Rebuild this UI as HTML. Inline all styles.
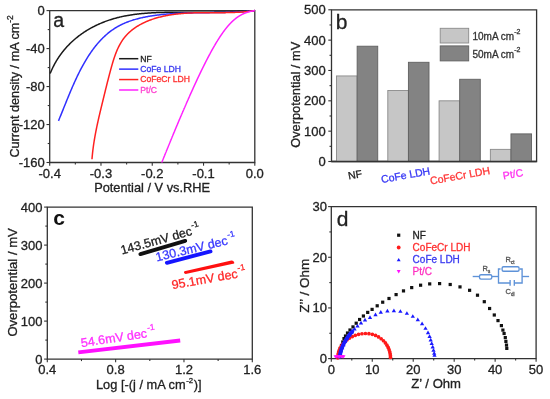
<!DOCTYPE html>
<html><head><meta charset="utf-8"><style>
html,body{margin:0;padding:0;background:#fff;width:550px;height:399px;overflow:hidden}
svg{display:block;filter:blur(0.35px)}
text{font-family:"Liberation Sans", sans-serif}
</style></head><body>
<svg width="550" height="399" viewBox="0 0 550 399">
<rect width="550" height="399" fill="#fff"/>
<path d="M49.70,10.60 H254.80 V162.50 H49.70 Z" fill="none" stroke="#333" stroke-width="1.3"/>
<line x1="46.50" y1="10.60" x2="49.70" y2="10.60" stroke="#333" stroke-width="1.1"/>
<line x1="46.50" y1="48.58" x2="49.70" y2="48.58" stroke="#333" stroke-width="1.1"/>
<line x1="46.50" y1="86.55" x2="49.70" y2="86.55" stroke="#333" stroke-width="1.1"/>
<line x1="46.50" y1="124.53" x2="49.70" y2="124.53" stroke="#333" stroke-width="1.1"/>
<line x1="46.50" y1="162.50" x2="49.70" y2="162.50" stroke="#333" stroke-width="1.1"/>
<line x1="47.70" y1="29.59" x2="49.70" y2="29.59" stroke="#333" stroke-width="1.1"/>
<line x1="47.70" y1="67.56" x2="49.70" y2="67.56" stroke="#333" stroke-width="1.1"/>
<line x1="47.70" y1="105.54" x2="49.70" y2="105.54" stroke="#333" stroke-width="1.1"/>
<line x1="47.70" y1="143.51" x2="49.70" y2="143.51" stroke="#333" stroke-width="1.1"/>
<line x1="49.70" y1="162.50" x2="49.70" y2="165.70" stroke="#333" stroke-width="1.1"/>
<line x1="100.98" y1="162.50" x2="100.98" y2="165.70" stroke="#333" stroke-width="1.1"/>
<line x1="152.25" y1="162.50" x2="152.25" y2="165.70" stroke="#333" stroke-width="1.1"/>
<line x1="203.53" y1="162.50" x2="203.53" y2="165.70" stroke="#333" stroke-width="1.1"/>
<line x1="254.80" y1="162.50" x2="254.80" y2="165.70" stroke="#333" stroke-width="1.1"/>
<line x1="75.34" y1="162.50" x2="75.34" y2="164.50" stroke="#333" stroke-width="1.1"/>
<line x1="126.61" y1="162.50" x2="126.61" y2="164.50" stroke="#333" stroke-width="1.1"/>
<line x1="177.89" y1="162.50" x2="177.89" y2="164.50" stroke="#333" stroke-width="1.1"/>
<line x1="229.16" y1="162.50" x2="229.16" y2="164.50" stroke="#333" stroke-width="1.1"/>
<text x="44.80" y="15.00" font-size="13" text-anchor="end" fill="#222" stroke="#222" stroke-width="0.3" font-weight="normal">0</text>
<text x="44.80" y="52.98" font-size="13" text-anchor="end" fill="#222" stroke="#222" stroke-width="0.3" font-weight="normal">-40</text>
<text x="44.80" y="90.95" font-size="13" text-anchor="end" fill="#222" stroke="#222" stroke-width="0.3" font-weight="normal">-80</text>
<text x="44.80" y="128.93" font-size="13" text-anchor="end" fill="#222" stroke="#222" stroke-width="0.3" font-weight="normal">-120</text>
<text x="44.80" y="166.90" font-size="13" text-anchor="end" fill="#222" stroke="#222" stroke-width="0.3" font-weight="normal">-160</text>
<text x="49.70" y="177.50" font-size="13" text-anchor="middle" fill="#222" stroke="#222" stroke-width="0.3" font-weight="normal">-0.4</text>
<text x="100.98" y="177.50" font-size="13" text-anchor="middle" fill="#222" stroke="#222" stroke-width="0.3" font-weight="normal">-0.3</text>
<text x="152.25" y="177.50" font-size="13" text-anchor="middle" fill="#222" stroke="#222" stroke-width="0.3" font-weight="normal">-0.2</text>
<text x="203.53" y="177.50" font-size="13" text-anchor="middle" fill="#222" stroke="#222" stroke-width="0.3" font-weight="normal">-0.1</text>
<text x="254.80" y="177.50" font-size="13" text-anchor="middle" fill="#222" stroke="#222" stroke-width="0.3" font-weight="normal">0.0</text>
<text x="152.10" y="191.50" font-size="12.8" text-anchor="middle" fill="#222" stroke="#222" stroke-width="0.3" font-weight="normal">Potential / V vs.RHE</text>
<text x="18.7" y="157.6" font-size="12.65" fill="#222" stroke="#222" stroke-width="0.3" transform="rotate(-90 18.7 157.6)">Current density / mA cm<tspan dy="-6" font-size="8.5">-2</tspan></text>
<text x="53.20" y="26.80" font-size="19.5" text-anchor="start" fill="#222" stroke="#222" stroke-width="0.3" font-weight="normal">a</text>
<polyline points="50.17,73.49 50.48,72.72 50.80,71.96 51.12,71.20 51.45,70.45 51.79,69.70 52.13,68.96 52.48,68.22 52.83,67.49 53.19,66.77 53.55,66.05 53.92,65.33 54.30,64.62 54.68,63.92 55.06,63.22 55.46,62.53 55.85,61.84 56.25,61.15 56.66,60.48 57.07,59.80 57.49,59.14 57.91,58.47 58.34,57.82 58.77,57.16 59.21,56.52 59.66,55.88 60.10,55.24 60.56,54.61 61.01,53.98 61.47,53.36 61.94,52.74 62.41,52.13 62.89,51.53 63.37,50.93 63.86,50.33 64.35,49.74 64.84,49.15 65.34,48.57 65.84,48.00 66.35,47.43 66.86,46.86 67.38,46.30 67.90,45.75 68.43,45.20 68.96,44.65 69.49,44.11 70.03,43.58 70.57,43.05 71.11,42.52 71.66,42.00 72.22,41.49 72.78,40.98 73.34,40.47 73.90,39.97 74.47,39.48 75.05,38.99 75.62,38.50 76.20,38.02 76.79,37.55 77.38,37.08 77.97,36.61 78.56,36.15 79.16,35.70 79.76,35.24 80.37,34.80 80.98,34.36 81.59,33.92 82.20,33.49 82.82,33.06 83.44,32.64 84.07,32.23 84.70,31.81 85.33,31.41 85.96,31.00 86.60,30.61 87.24,30.21 87.88,29.83 88.53,29.44 89.18,29.06 89.83,28.69 90.49,28.32 91.14,27.96 91.80,27.60 92.47,27.25 93.13,26.90 93.80,26.55 94.47,26.21 95.14,25.87 95.82,25.54 96.50,25.22 97.18,24.90 97.86,24.58 98.55,24.27 99.23,23.96 99.92,23.66 100.62,23.36 101.31,23.07 102.01,22.78 102.70,22.49 103.40,22.21 104.11,21.94 104.81,21.67 105.52,21.40 106.23,21.14 106.94,20.89 107.65,20.63 108.36,20.39 109.08,20.14 109.79,19.91 110.51,19.67 111.23,19.44 111.95,19.22 112.68,19.00 113.40,18.78 114.13,18.57 114.86,18.37 115.59,18.17 116.32,17.97 117.05,17.78 117.78,17.59 118.51,17.40 119.25,17.22 119.99,17.05 120.73,16.88 121.46,16.71 122.20,16.55 122.95,16.39 123.69,16.24 124.43,16.08 125.18,15.94 125.92,15.79 126.67,15.66 127.42,15.52 128.16,15.39 128.91,15.26 129.67,15.14 130.42,15.02 131.17,14.90 131.92,14.78 132.68,14.67 133.43,14.57 134.19,14.46 134.94,14.36 135.70,14.26 136.46,14.17 137.22,14.08 137.98,13.99 138.74,13.90 139.50,13.82 140.26,13.74 141.02,13.66 141.78,13.59 142.55,13.52 143.31,13.45 144.07,13.38 144.84,13.32 145.60,13.26 146.37,13.20 147.13,13.14 147.90,13.09 148.67,13.03 149.43,12.98 150.20,12.94 150.97,12.89 151.74,12.85 152.51,12.81 153.28,12.77 154.04,12.73 154.81,12.69 155.58,12.66 156.35,12.62 157.12,12.59 157.89,12.56 158.66,12.54 159.43,12.51 160.20,12.48 160.97,12.46 161.74,12.44 162.51,12.42 163.28,12.40 164.05,12.38 164.82,12.36 165.59,12.34 166.36,12.33 167.13,12.31 167.90,12.30 168.67,12.29 169.44,12.28 170.21,12.27 170.98,12.25 171.75,12.24 172.52,12.24 173.28,12.23 174.05,12.22 174.82,12.21 175.59,12.20 176.36,12.20 177.12,12.19 177.89,12.19 178.66,12.18 179.42,12.18 180.19,12.17 180.96,12.17 181.72,12.17 182.49,12.17 183.25,12.16 184.02,12.16 184.78,12.16 185.55,12.16 186.31,12.16 187.08,12.16 187.84,12.16 188.61,12.16 189.37,12.16 190.13,12.16 190.90,12.16 191.66,12.16 192.43,12.16 193.19,12.16 193.95,12.16 194.72,12.16 195.48,12.16 196.24,12.16 197.00,12.16 197.77,12.16 198.53,12.16 199.29,12.16 200.05,12.16 200.81,12.16 201.58,12.16 202.34,12.16 203.10,12.16 203.86,12.16 204.62,12.16 205.38,12.16 206.14,12.16 206.91,12.16 207.67,12.15 208.43,12.15 209.19,12.15 209.95,12.15 210.71,12.14 211.47,12.14 212.23,12.14 212.99,12.13 213.75,12.13 214.51,12.12 215.27,12.12 216.03,12.11 216.79,12.10 217.55,12.09 218.31,12.09 219.07,12.08 219.83,12.07 220.59,12.06 221.34,12.05 222.10,12.04 222.86,12.02 223.62,12.01 224.38,12.00 225.14,11.98 225.90,11.97 226.66,11.95 227.42,11.93 228.17,11.92 228.93,11.90 229.69,11.88 230.45,11.86 231.21,11.84 231.97,11.81 232.73,11.79 233.48,11.77 234.24,11.74 235.00,11.71 235.76,11.69 236.52,11.66 237.28,11.63 238.03,11.60 238.79,11.56 239.55,11.53 240.31,11.50 241.07,11.46 241.82,11.42 242.58,11.39 243.34,11.35 244.10,11.31 244.86,11.26 245.62,11.22 246.37,11.17 247.13,11.13 247.89,11.08 248.65,11.03 249.41,10.98 250.16,10.93 250.92,10.88 251.68,10.82 252.44,10.77 253.20,10.71 253.96,10.65 254.71,10.59" fill="none" stroke="#1a1a1a" stroke-width="1.5" stroke-linejoin="round"/>
<polyline points="58.46,120.88 58.76,120.17 59.05,119.46 59.35,118.74 59.65,118.02 59.95,117.30 60.25,116.57 60.55,115.84 60.85,115.10 61.16,114.36 61.46,113.62 61.76,112.87 62.06,112.13 62.37,111.37 62.67,110.62 62.98,109.86 63.28,109.10 63.59,108.34 63.90,107.57 64.21,106.80 64.52,106.03 64.83,105.26 65.14,104.49 65.46,103.71 65.77,102.93 66.08,102.15 66.40,101.37 66.72,100.58 67.04,99.80 67.36,99.01 67.68,98.22 68.00,97.43 68.33,96.64 68.66,95.85 68.98,95.05 69.31,94.26 69.65,93.46 69.98,92.66 70.31,91.87 70.65,91.07 70.99,90.27 71.33,89.47 71.67,88.68 72.02,87.88 72.36,87.08 72.71,86.28 73.06,85.48 73.41,84.68 73.77,83.88 74.12,83.08 74.48,82.29 74.84,81.49 75.21,80.69 75.57,79.90 75.94,79.10 76.31,78.31 76.69,77.52 77.06,76.73 77.44,75.94 77.82,75.15 78.21,74.36 78.59,73.58 78.98,72.79 79.38,72.01 79.77,71.23 80.17,70.45 80.57,69.68 80.97,68.90 81.38,68.13 81.79,67.36 82.21,66.59 82.62,65.83 83.04,65.06 83.46,64.31 83.89,63.55 84.32,62.80 84.75,62.04 85.19,61.30 85.63,60.55 86.07,59.81 86.52,59.07 86.97,58.34 87.42,57.61 87.88,56.88 88.34,56.16 88.81,55.44 89.28,54.72 89.75,54.01 90.23,53.30 90.71,52.60 91.19,51.90 91.68,51.21 92.17,50.52 92.67,49.83 93.17,49.15 93.68,48.48 94.19,47.81 94.70,47.14 95.22,46.48 95.74,45.83 96.27,45.18 96.80,44.53 97.33,43.89 97.87,43.26 98.42,42.63 98.97,42.01 99.52,41.39 100.08,40.78 100.64,40.18 101.21,39.58 101.78,38.99 102.36,38.41 102.95,37.83 103.53,37.26 104.13,36.69 104.72,36.13 105.33,35.58 105.94,35.03 106.55,34.50 107.17,33.97 107.79,33.44 108.42,32.93 109.05,32.42 109.69,31.92 110.34,31.42 110.99,30.94 111.65,30.46 112.31,29.99 112.98,29.53 113.65,29.07 114.33,28.63 115.01,28.19 115.70,27.76 116.40,27.34 117.10,26.93 117.81,26.52 118.52,26.13 119.24,25.74 119.96,25.36 120.69,24.99 121.43,24.63 122.17,24.28 122.91,23.93 123.66,23.59 124.42,23.26 125.18,22.93 125.94,22.62 126.71,22.31 127.48,22.01 128.26,21.71 129.04,21.42 129.83,21.14 130.62,20.87 131.41,20.60 132.21,20.34 133.01,20.09 133.81,19.84 134.62,19.60 135.43,19.36 136.24,19.13 137.06,18.91 137.88,18.69 138.70,18.48 139.53,18.27 140.36,18.07 141.19,17.88 142.02,17.69 142.85,17.50 143.69,17.33 144.53,17.15 145.37,16.98 146.22,16.82 147.06,16.66 147.91,16.51 148.76,16.36 149.61,16.21 150.46,16.07 151.31,15.94 152.16,15.80 153.02,15.68 153.87,15.55 154.73,15.43 155.58,15.32 156.44,15.20 157.30,15.09 158.16,14.99 159.02,14.89 159.88,14.79 160.73,14.69 161.59,14.60 162.45,14.51 163.31,14.43 164.17,14.34 165.02,14.26 165.88,14.19 166.74,14.11 167.60,14.04 168.45,13.97 169.31,13.90 170.17,13.84 171.02,13.77 171.88,13.71 172.73,13.66 173.59,13.60 174.44,13.55 175.30,13.50 176.15,13.45 177.01,13.40 177.86,13.36 178.71,13.32 179.57,13.28 180.42,13.24 181.27,13.20 182.13,13.17 182.98,13.13 183.83,13.10 184.68,13.07 185.54,13.04 186.39,13.01 187.24,12.99 188.09,12.96 188.94,12.94 189.79,12.92 190.64,12.90 191.49,12.88 192.34,12.86 193.19,12.84 194.04,12.82 194.89,12.81 195.74,12.79 196.59,12.78 197.44,12.77 198.29,12.75 199.14,12.74 199.99,12.73 200.83,12.72 201.68,12.71 202.53,12.70 203.38,12.69 204.22,12.68 205.07,12.67 205.92,12.66 206.76,12.65 207.61,12.64 208.46,12.63 209.30,12.63 210.15,12.62 210.99,12.61 211.84,12.60 212.68,12.59 213.53,12.58 214.37,12.57 215.22,12.56 216.06,12.55 216.91,12.54 217.75,12.53 218.59,12.51 219.44,12.50 220.28,12.49 221.12,12.47 221.97,12.46 222.81,12.44 223.65,12.42 224.49,12.40 225.33,12.38 226.18,12.36 227.02,12.34 227.86,12.32 228.70,12.29 229.54,12.27 230.38,12.24 231.22,12.21 232.06,12.18 232.90,12.15 233.74,12.12 234.58,12.08 235.42,12.05 236.26,12.01 237.10,11.97 237.94,11.92 238.78,11.88 239.61,11.83 240.45,11.79 241.29,11.74 242.13,11.68 242.97,11.63 243.80,11.57 244.64,11.51 245.48,11.45 246.32,11.39 247.15,11.32 247.99,11.25 248.83,11.18 249.66,11.10 250.50,11.03 251.33,10.95 252.17,10.86 253.00,10.78 253.84,10.69 254.67,10.60" fill="none" stroke="#3030ff" stroke-width="1.5" stroke-linejoin="round"/>
<polyline points="91.99,159.20 92.06,158.30 92.13,157.41 92.21,156.51 92.29,155.61 92.38,154.72 92.47,153.83 92.56,152.94 92.66,152.05 92.76,151.16 92.87,150.28 92.97,149.39 93.09,148.51 93.20,147.63 93.32,146.75 93.44,145.87 93.56,144.99 93.69,144.11 93.82,143.24 93.96,142.36 94.09,141.49 94.23,140.62 94.38,139.75 94.52,138.88 94.67,138.01 94.82,137.14 94.97,136.27 95.13,135.41 95.29,134.54 95.45,133.68 95.61,132.81 95.78,131.95 95.94,131.09 96.11,130.23 96.29,129.37 96.46,128.51 96.63,127.65 96.81,126.79 96.99,125.93 97.17,125.07 97.36,124.22 97.54,123.36 97.73,122.51 97.92,121.65 98.11,120.80 98.30,119.94 98.49,119.09 98.68,118.24 98.88,117.39 99.07,116.53 99.27,115.68 99.47,114.83 99.67,113.98 99.87,113.13 100.07,112.28 100.27,111.43 100.48,110.57 100.68,109.72 100.88,108.87 101.09,108.02 101.29,107.17 101.50,106.32 101.71,105.47 101.91,104.62 102.12,103.77 102.33,102.92 102.53,102.07 102.74,101.22 102.95,100.37 103.16,99.52 103.36,98.67 103.57,97.82 103.78,96.97 103.99,96.11 104.20,95.26 104.40,94.41 104.61,93.56 104.82,92.70 105.03,91.85 105.24,90.99 105.45,90.14 105.66,89.28 105.87,88.43 106.09,87.57 106.30,86.71 106.51,85.85 106.73,85.00 106.94,84.14 107.16,83.28 107.38,82.41 107.59,81.55 107.81,80.69 108.03,79.82 108.26,78.96 108.48,78.09 108.70,77.23 108.93,76.36 109.16,75.49 109.38,74.62 109.61,73.75 109.85,72.88 110.08,72.00 110.31,71.13 110.55,70.25 110.79,69.37 111.03,68.49 111.27,67.62 111.51,66.74 111.76,65.86 112.01,64.98 112.27,64.10 112.52,63.22 112.79,62.34 113.05,61.46 113.32,60.59 113.60,59.72 113.88,58.85 114.16,57.98 114.45,57.12 114.75,56.26 115.05,55.41 115.36,54.56 115.68,53.71 116.00,52.87 116.33,52.03 116.67,51.20 117.01,50.38 117.37,49.56 117.73,48.75 118.10,47.95 118.48,47.15 118.87,46.36 119.27,45.58 119.68,44.81 120.09,44.04 120.52,43.29 120.96,42.54 121.42,41.80 121.88,41.08 122.35,40.36 122.84,39.66 123.33,38.97 123.85,38.28 124.37,37.61 124.90,36.95 125.45,36.31 126.01,35.67 126.57,35.04 127.15,34.43 127.75,33.82 128.35,33.23 128.96,32.65 129.58,32.07 130.22,31.51 130.86,30.96 131.51,30.42 132.17,29.89 132.84,29.37 133.52,28.86 134.21,28.36 134.91,27.86 135.61,27.38 136.33,26.91 137.05,26.45 137.78,26.00 138.52,25.56 139.26,25.12 140.01,24.70 140.77,24.29 141.53,23.88 142.31,23.48 143.08,23.10 143.87,22.72 144.66,22.35 145.45,21.99 146.25,21.64 147.06,21.29 147.87,20.96 148.69,20.63 149.51,20.31 150.33,20.00 151.16,19.70 151.99,19.41 152.83,19.12 153.67,18.84 154.51,18.57 155.36,18.31 156.21,18.06 157.06,17.81 157.91,17.57 158.77,17.34 159.63,17.11 160.49,16.90 161.35,16.69 162.21,16.48 163.08,16.29 163.94,16.10 164.81,15.91 165.68,15.74 166.55,15.57 167.42,15.40 168.29,15.25 169.16,15.09 170.03,14.95 170.91,14.81 171.78,14.68 172.66,14.55 173.53,14.43 174.41,14.31 175.29,14.20 176.17,14.09 177.05,13.99 177.93,13.89 178.81,13.80 179.70,13.71 180.58,13.63 181.46,13.55 182.35,13.48 183.24,13.41 184.12,13.34 185.01,13.28 185.89,13.22 186.78,13.17 187.67,13.12 188.56,13.07 189.45,13.03 190.34,12.99 191.23,12.95 192.12,12.92 193.01,12.88 193.90,12.86 194.79,12.83 195.68,12.81 196.57,12.78 197.47,12.77 198.36,12.75 199.25,12.73 200.14,12.72 201.03,12.71 201.93,12.70 202.82,12.69 203.71,12.68 204.61,12.68 205.50,12.68 206.39,12.67 207.28,12.67 208.18,12.67 209.07,12.67 209.96,12.67 210.85,12.67 211.74,12.67 212.64,12.67 213.53,12.67 214.42,12.67 215.31,12.67 216.20,12.67 217.09,12.67 217.98,12.67 218.87,12.67 219.76,12.67 220.65,12.66 221.53,12.66 222.42,12.65 223.31,12.65 224.20,12.64 225.08,12.63 225.97,12.62 226.85,12.61 227.73,12.59 228.62,12.58 229.50,12.56 230.38,12.54 231.26,12.52 232.14,12.49 233.02,12.46 233.90,12.43 234.78,12.40 235.66,12.36 236.53,12.32 237.41,12.28 238.28,12.23 239.15,12.18 240.03,12.13 240.90,12.07 241.77,12.01 242.64,11.95 243.50,11.88 244.37,11.81 245.24,11.73 246.10,11.65 246.96,11.56 247.82,11.47 248.68,11.38 249.54,11.28 250.40,11.17 251.26,11.06 252.11,10.95 252.97,10.83 253.82,10.70 254.67,10.57" fill="none" stroke="#ff2020" stroke-width="1.5" stroke-linejoin="round"/>
<polyline points="254.80,10.60 252.60,10.98 250.80,11.36 249.27,11.74 247.93,12.12 246.74,12.50 245.66,12.89 244.68,13.27 243.77,13.65 242.93,14.03 242.14,14.41 241.39,14.79 240.69,15.17 240.02,15.55 239.39,15.93 238.78,16.31 238.20,16.70 237.63,17.08 237.09,17.46 236.57,17.84 236.07,18.22 235.58,18.60 235.10,18.98 234.64,19.36 234.19,19.74 233.75,20.12 233.32,20.50 232.90,20.89 232.49,21.27 232.09,21.65 231.70,22.03 231.31,22.41 230.93,22.79 230.56,23.17 230.20,23.55 229.84,23.93 229.49,24.31 229.14,24.69 228.80,25.08 228.46,25.46 228.13,25.84 227.80,26.22 227.48,26.60 227.16,26.98 226.84,27.36 226.53,27.74 226.23,28.12 225.92,28.50 225.62,28.89 225.32,29.27 225.03,29.65 224.74,30.03 224.45,30.41 224.17,30.79 223.88,31.17 223.60,31.55 223.32,31.93 223.05,32.31 222.78,32.69 222.51,33.08 222.24,33.46 221.97,33.84 221.71,34.22 221.45,34.60 221.19,34.98 220.93,35.36 220.67,35.74 220.42,36.12 220.16,36.50 219.91,36.88 219.66,37.27 219.41,37.65 219.17,38.03 218.92,38.41 218.68,38.79 218.44,39.17 218.20,39.55 217.96,39.93 217.72,40.31 217.48,40.69 217.25,41.08 217.01,41.46 216.78,41.84 216.55,42.22 216.32,42.60 216.09,42.98 215.86,43.36 215.63,43.74 215.41,44.12 215.18,44.50 214.96,44.88 214.74,45.27 214.51,45.65 214.29,46.03 214.07,46.41 213.85,46.79 213.63,47.17 213.42,47.55 213.20,47.93 212.98,48.31 212.77,48.69 212.56,49.07 212.34,49.46 212.13,49.84 211.92,50.22 211.71,50.60 211.50,50.98 211.29,51.36 211.08,51.74 210.87,52.12 210.66,52.50 210.45,52.88 210.25,53.27 210.04,53.65 209.84,54.03 209.63,54.41 209.43,54.79 209.23,55.17 209.02,55.55 208.82,55.93 208.62,56.31 208.42,56.69 208.22,57.07 208.02,57.46 207.82,57.84 207.62,58.22 207.42,58.60 207.22,58.98 207.03,59.36 206.83,59.74 206.63,60.12 206.44,60.50 206.24,60.88 206.05,61.26 205.85,61.65 205.66,62.03 205.47,62.41 205.27,62.79 205.08,63.17 204.89,63.55 204.70,63.93 204.51,64.31 204.32,64.69 204.13,65.07 203.94,65.46 203.75,65.84 203.56,66.22 203.37,66.60 203.18,66.98 202.99,67.36 202.80,67.74 202.62,68.12 202.43,68.50 202.24,68.88 202.06,69.26 201.87,69.65 201.68,70.03 201.50,70.41 201.31,70.79 201.13,71.17 200.95,71.55 200.76,71.93 200.58,72.31 200.39,72.69 200.21,73.07 200.03,73.46 199.85,73.84 199.66,74.22 199.48,74.60 199.30,74.98 199.12,75.36 198.94,75.74 198.76,76.12 198.58,76.50 198.40,76.88 198.22,77.26 198.04,77.65 197.86,78.03 197.68,78.41 197.50,78.79 197.32,79.17 197.14,79.55 196.97,79.93 196.79,80.31 196.61,80.69 196.43,81.07 196.26,81.45 196.08,81.84 195.90,82.22 195.73,82.60 195.55,82.98 195.37,83.36 195.20,83.74 195.02,84.12 194.85,84.50 194.67,84.88 194.50,85.26 194.32,85.65 194.15,86.03 193.98,86.41 193.80,86.79 193.63,87.17 193.45,87.55 193.28,87.93 193.11,88.31 192.94,88.69 192.76,89.07 192.59,89.45 192.42,89.84 192.25,90.22 192.07,90.60 191.90,90.98 191.73,91.36 191.56,91.74 191.39,92.12 191.22,92.50 191.05,92.88 190.87,93.26 190.70,93.64 190.53,94.03 190.36,94.41 190.19,94.79 190.02,95.17 189.85,95.55 189.68,95.93 189.52,96.31 189.35,96.69 189.18,97.07 189.01,97.45 188.84,97.84 188.67,98.22 188.50,98.60 188.33,98.98 188.17,99.36 188.00,99.74 187.83,100.12 187.66,100.50 187.50,100.88 187.33,101.26 187.16,101.64 186.99,102.03 186.83,102.41 186.66,102.79 186.49,103.17 186.33,103.55 186.16,103.93 185.99,104.31 185.83,104.69 185.66,105.07 185.50,105.45 185.33,105.83 185.17,106.22 185.00,106.60 184.83,106.98 184.67,107.36 184.50,107.74 184.34,108.12 184.17,108.50 184.01,108.88 183.85,109.26 183.68,109.64 183.52,110.03 183.35,110.41 183.19,110.79 183.02,111.17 182.86,111.55 182.70,111.93 182.53,112.31 182.37,112.69 182.21,113.07 182.04,113.45 181.88,113.83 181.72,114.22 181.55,114.60 181.39,114.98 181.23,115.36 181.07,115.74 180.90,116.12 180.74,116.50 180.58,116.88 180.42,117.26 180.26,117.64 180.09,118.02 179.93,118.41 179.77,118.79 179.61,119.17 179.45,119.55 179.29,119.93 179.12,120.31 178.96,120.69 178.80,121.07 178.64,121.45 178.48,121.83 178.32,122.22 178.16,122.60 178.00,122.98 177.84,123.36 177.68,123.74 177.52,124.12 177.36,124.50 177.19,124.88 177.03,125.26 176.87,125.64 176.71,126.02 176.56,126.41 176.40,126.79 176.24,127.17 176.08,127.55 175.92,127.93 175.76,128.31 175.60,128.69 175.44,129.07 175.28,129.45 175.12,129.83 174.96,130.22 174.80,130.60 174.64,130.98 174.48,131.36 174.33,131.74 174.17,132.12 174.01,132.50 173.85,132.88 173.69,133.26 173.53,133.64 173.38,134.02 173.22,134.41 173.06,134.79 172.90,135.17 172.74,135.55 172.59,135.93 172.43,136.31 172.27,136.69 172.11,137.07 171.96,137.45 171.80,137.83 171.64,138.21 171.48,138.60 171.33,138.98 171.17,139.36 171.01,139.74 170.85,140.12 170.70,140.50 170.54,140.88 170.38,141.26 170.23,141.64 170.07,142.02 169.91,142.41 169.76,142.79 169.60,143.17 169.44,143.55 169.29,143.93 169.13,144.31 168.98,144.69 168.82,145.07 168.66,145.45 168.51,145.83 168.35,146.21 168.20,146.60 168.04,146.98 167.88,147.36 167.73,147.74 167.57,148.12 167.42,148.50 167.26,148.88 167.11,149.26 166.95,149.64 166.79,150.02 166.64,150.40 166.48,150.79 166.33,151.17 166.17,151.55 166.02,151.93 165.86,152.31 165.71,152.69 165.55,153.07 165.40,153.45 165.24,153.83 165.09,154.21 164.93,154.60 164.78,154.98 164.63,155.36 164.47,155.74 164.32,156.12 164.16,156.50 164.01,156.88 163.85,157.26 163.70,157.64 163.55,158.02 163.39,158.40 163.24,158.79 163.08,159.17 162.93,159.55 162.78,159.93 162.62,160.31 162.47,160.69 162.31,161.07 162.16,161.45 162.01,161.83 161.85,162.21 161.70,162.59" fill="none" stroke="#ff20ff" stroke-width="1.5" stroke-linejoin="round"/>
<line x1="119.1" y1="58.70" x2="138.3" y2="58.70" stroke="#1a1a1a" stroke-width="1.5"/>
<text x="140.30" y="61.60" font-size="8.6" text-anchor="start" fill="#222" stroke="#222" stroke-width="0.3" font-weight="normal">NF</text>
<line x1="119.1" y1="69.13" x2="138.3" y2="69.13" stroke="#3030ff" stroke-width="1.5"/>
<text x="140.30" y="72.03" font-size="8.6" text-anchor="start" fill="#3838f0" stroke="#3838f0" stroke-width="0.3" font-weight="normal">CoFe LDH</text>
<line x1="119.1" y1="79.56" x2="138.3" y2="79.56" stroke="#ff2020" stroke-width="1.5"/>
<text x="140.30" y="82.46" font-size="8.6" text-anchor="start" fill="#ff3030" stroke="#ff3030" stroke-width="0.3" font-weight="normal">CoFeCr LDH</text>
<line x1="119.1" y1="89.99" x2="138.3" y2="89.99" stroke="#ff20ff" stroke-width="1.5"/>
<text x="140.30" y="92.89" font-size="8.6" text-anchor="start" fill="#ff40d0" stroke="#ff40d0" stroke-width="0.3" font-weight="normal">Pt/C</text>
<path d="M331.50,9.80 H536.60 V161.50 H331.50 Z" fill="none" stroke="#333" stroke-width="1.3"/>
<line x1="328.30" y1="161.50" x2="331.50" y2="161.50" stroke="#333" stroke-width="1.1"/>
<line x1="328.30" y1="131.16" x2="331.50" y2="131.16" stroke="#333" stroke-width="1.1"/>
<line x1="328.30" y1="100.82" x2="331.50" y2="100.82" stroke="#333" stroke-width="1.1"/>
<line x1="328.30" y1="70.48" x2="331.50" y2="70.48" stroke="#333" stroke-width="1.1"/>
<line x1="328.30" y1="40.14" x2="331.50" y2="40.14" stroke="#333" stroke-width="1.1"/>
<line x1="328.30" y1="9.80" x2="331.50" y2="9.80" stroke="#333" stroke-width="1.1"/>
<line x1="329.50" y1="146.33" x2="331.50" y2="146.33" stroke="#333" stroke-width="1.1"/>
<line x1="329.50" y1="115.99" x2="331.50" y2="115.99" stroke="#333" stroke-width="1.1"/>
<line x1="329.50" y1="85.65" x2="331.50" y2="85.65" stroke="#333" stroke-width="1.1"/>
<line x1="329.50" y1="55.31" x2="331.50" y2="55.31" stroke="#333" stroke-width="1.1"/>
<line x1="329.50" y1="24.97" x2="331.50" y2="24.97" stroke="#333" stroke-width="1.1"/>
<text x="325.80" y="165.90" font-size="13" text-anchor="end" fill="#222" stroke="#222" stroke-width="0.3" font-weight="normal">0</text>
<text x="325.80" y="135.56" font-size="13" text-anchor="end" fill="#222" stroke="#222" stroke-width="0.3" font-weight="normal">100</text>
<text x="325.80" y="105.22" font-size="13" text-anchor="end" fill="#222" stroke="#222" stroke-width="0.3" font-weight="normal">200</text>
<text x="325.80" y="74.88" font-size="13" text-anchor="end" fill="#222" stroke="#222" stroke-width="0.3" font-weight="normal">300</text>
<text x="325.80" y="44.54" font-size="13" text-anchor="end" fill="#222" stroke="#222" stroke-width="0.3" font-weight="normal">400</text>
<text x="325.80" y="14.20" font-size="13" text-anchor="end" fill="#222" stroke="#222" stroke-width="0.3" font-weight="normal">500</text>
<text x="299.6" y="147.8" font-size="12.8" fill="#222" stroke="#222" stroke-width="0.3" transform="rotate(-90 299.6 147.8)">Overpotential / mV</text>
<text x="335.80" y="28.50" font-size="21" text-anchor="start" fill="#222" stroke="#222" stroke-width="0.3" font-weight="normal">b</text>
<rect x="336.54" y="75.94" width="20.60" height="85.56" fill="#c6c6c6" stroke="#8a8a8a" stroke-width="0.9"/>
<rect x="357.14" y="46.21" width="20.60" height="115.29" fill="#838383" stroke="#606060" stroke-width="0.9"/>
<rect x="387.81" y="90.50" width="20.60" height="71.00" fill="#c6c6c6" stroke="#8a8a8a" stroke-width="0.9"/>
<rect x="408.41" y="62.29" width="20.60" height="99.21" fill="#838383" stroke="#606060" stroke-width="0.9"/>
<rect x="439.09" y="100.82" width="20.60" height="60.68" fill="#c6c6c6" stroke="#8a8a8a" stroke-width="0.9"/>
<rect x="459.69" y="79.28" width="20.60" height="82.22" fill="#838383" stroke="#606060" stroke-width="0.9"/>
<rect x="490.36" y="149.36" width="20.60" height="12.14" fill="#c6c6c6" stroke="#8a8a8a" stroke-width="0.9"/>
<rect x="510.96" y="133.89" width="20.60" height="27.61" fill="#838383" stroke="#606060" stroke-width="0.9"/>
<line x1="331.50" y1="161.50" x2="536.60" y2="161.50" stroke="#333" stroke-width="1.3"/>
<rect x="440.2" y="28.3" width="28.5" height="14.7" fill="#c6c6c6" stroke="#8a8a8a" stroke-width="0.9"/>
<rect x="440.2" y="45.9" width="28.5" height="15" fill="#838383" stroke="#606060" stroke-width="0.9"/>
<text x="472.5" y="40.4" font-size="10" fill="#333" stroke="#333" stroke-width="0.3">10mA cm<tspan dy="-6" font-size="7">-2</tspan></text>
<text x="472.5" y="57.6" font-size="10" fill="#333" stroke="#333" stroke-width="0.3">50mA cm<tspan dy="-6" font-size="7">-2</tspan></text>
<text x="355.00" y="178.30" font-size="10.5" fill="#222" stroke="#222" stroke-width="0.3" text-anchor="middle" transform="rotate(-10 355.00 174.50)">NF</text>
<text x="405.50" y="178.80" font-size="10.5" fill="#3535f5" stroke="#3535f5" stroke-width="0.3" text-anchor="middle" transform="rotate(-10 405.50 175.00)">CoFe LDH</text>
<text x="460.00" y="179.30" font-size="10.5" fill="#ff3535" stroke="#ff3535" stroke-width="0.3" text-anchor="middle" transform="rotate(-10 460.00 175.50)">CoFeCr LDH</text>
<text x="513.00" y="177.80" font-size="10.5" fill="#ff30f0" stroke="#ff30f0" stroke-width="0.3" text-anchor="middle" transform="rotate(-10 513.00 174.00)">Pt/C</text>
<path d="M47.30,207.10 H252.30 V359.10 H47.30 Z" fill="none" stroke="#333" stroke-width="1.3"/>
<line x1="44.10" y1="359.10" x2="47.30" y2="359.10" stroke="#333" stroke-width="1.1"/>
<line x1="44.10" y1="321.10" x2="47.30" y2="321.10" stroke="#333" stroke-width="1.1"/>
<line x1="44.10" y1="283.10" x2="47.30" y2="283.10" stroke="#333" stroke-width="1.1"/>
<line x1="44.10" y1="245.10" x2="47.30" y2="245.10" stroke="#333" stroke-width="1.1"/>
<line x1="44.10" y1="207.10" x2="47.30" y2="207.10" stroke="#333" stroke-width="1.1"/>
<line x1="45.30" y1="340.10" x2="47.30" y2="340.10" stroke="#333" stroke-width="1.1"/>
<line x1="45.30" y1="302.10" x2="47.30" y2="302.10" stroke="#333" stroke-width="1.1"/>
<line x1="45.30" y1="264.10" x2="47.30" y2="264.10" stroke="#333" stroke-width="1.1"/>
<line x1="45.30" y1="226.10" x2="47.30" y2="226.10" stroke="#333" stroke-width="1.1"/>
<line x1="47.30" y1="359.10" x2="47.30" y2="362.30" stroke="#333" stroke-width="1.1"/>
<line x1="115.63" y1="359.10" x2="115.63" y2="362.30" stroke="#333" stroke-width="1.1"/>
<line x1="183.97" y1="359.10" x2="183.97" y2="362.30" stroke="#333" stroke-width="1.1"/>
<line x1="252.30" y1="359.10" x2="252.30" y2="362.30" stroke="#333" stroke-width="1.1"/>
<line x1="81.47" y1="359.10" x2="81.47" y2="361.10" stroke="#333" stroke-width="1.1"/>
<line x1="149.80" y1="359.10" x2="149.80" y2="361.10" stroke="#333" stroke-width="1.1"/>
<line x1="218.13" y1="359.10" x2="218.13" y2="361.10" stroke="#333" stroke-width="1.1"/>
<text x="42.50" y="363.50" font-size="13" text-anchor="end" fill="#222" stroke="#222" stroke-width="0.3" font-weight="normal">0</text>
<text x="42.50" y="325.50" font-size="13" text-anchor="end" fill="#222" stroke="#222" stroke-width="0.3" font-weight="normal">100</text>
<text x="42.50" y="287.50" font-size="13" text-anchor="end" fill="#222" stroke="#222" stroke-width="0.3" font-weight="normal">200</text>
<text x="42.50" y="249.50" font-size="13" text-anchor="end" fill="#222" stroke="#222" stroke-width="0.3" font-weight="normal">300</text>
<text x="42.50" y="211.50" font-size="13" text-anchor="end" fill="#222" stroke="#222" stroke-width="0.3" font-weight="normal">400</text>
<text x="47.30" y="374.40" font-size="13" text-anchor="middle" fill="#222" stroke="#222" stroke-width="0.3" font-weight="normal">0.4</text>
<text x="115.63" y="374.40" font-size="13" text-anchor="middle" fill="#222" stroke="#222" stroke-width="0.3" font-weight="normal">0.8</text>
<text x="183.97" y="374.40" font-size="13" text-anchor="middle" fill="#222" stroke="#222" stroke-width="0.3" font-weight="normal">1.2</text>
<text x="252.30" y="374.40" font-size="13" text-anchor="middle" fill="#222" stroke="#222" stroke-width="0.3" font-weight="normal">1.6</text>
<text x="96" y="388.5" font-size="12.8" fill="#222" stroke="#222" stroke-width="0.3">Log [-(j / mA cm<tspan dx="0.6" dy="-6" font-size="7.8">-2</tspan><tspan dx="0.6" dy="6">)]</tspan></text>
<text x="17.2" y="336.6" font-size="13.1" fill="#222" stroke="#222" stroke-width="0.3" transform="rotate(-90 17.2 336.6)">Overpotential / mV</text>
<text x="53.3" y="225" font-size="21" font-weight="bold" style="fill:#111">c</text>
<line x1="78.3" y1="352.4" x2="180.2" y2="340.5" stroke="#ff10ff" stroke-width="3.8"/>
<line x1="140.40" y1="254.10" x2="185.20" y2="240.90" stroke="#111" stroke-width="3.9" stroke-linecap="round"/>
<line x1="166.90" y1="262.80" x2="210.50" y2="251.40" stroke="#1515ff" stroke-width="3.9" stroke-linecap="round"/>
<path d="M184.4,271.3 L231.4,260.6 Q234.6,260.9 234.2,263.6 L185.6,273.9 Q183.2,273.5 184.4,271.3 Z" fill="#ff1010"/>
<text x="121.90" y="254.60" font-size="12.5" fill="#222" stroke="#222" stroke-width="0.3" transform="rotate(-15.6 121.90 254.60)">143.5mV dec<tspan dx="0.8" dy="-6.5" font-size="8.5">-1</tspan></text>
<text x="156.80" y="261.40" font-size="12.5" fill="#3a3aff" stroke="#3a3aff" stroke-width="0.3" transform="rotate(-13.4 156.80 261.40)">130.3mV dec<tspan dx="0.8" dy="-6.5" font-size="8.5">-1</tspan></text>
<text x="172.50" y="289.20" font-size="12.5" fill="#ff2a2a" stroke="#ff2a2a" stroke-width="0.3" transform="rotate(-10 172.50 289.20)">95.1mV dec<tspan dx="0.8" dy="-6.5" font-size="8.5">-1</tspan></text>
<text x="81.60" y="347.20" font-size="12.5" fill="#ff30ff" stroke="#ff30ff" stroke-width="0.3" transform="rotate(-8.6 81.60 347.20)">54.6mV dec<tspan dx="0.8" dy="-6.5" font-size="8.5">-1</tspan></text>
<path d="M331.30,206.60 H536.10 V358.60 H331.30 Z" fill="none" stroke="#333" stroke-width="1.3"/>
<line x1="328.10" y1="358.60" x2="331.30" y2="358.60" stroke="#333" stroke-width="1.1"/>
<line x1="328.10" y1="307.93" x2="331.30" y2="307.93" stroke="#333" stroke-width="1.1"/>
<line x1="328.10" y1="257.27" x2="331.30" y2="257.27" stroke="#333" stroke-width="1.1"/>
<line x1="328.10" y1="206.60" x2="331.30" y2="206.60" stroke="#333" stroke-width="1.1"/>
<line x1="329.30" y1="333.27" x2="331.30" y2="333.27" stroke="#333" stroke-width="1.1"/>
<line x1="329.30" y1="282.60" x2="331.30" y2="282.60" stroke="#333" stroke-width="1.1"/>
<line x1="329.30" y1="231.93" x2="331.30" y2="231.93" stroke="#333" stroke-width="1.1"/>
<line x1="331.30" y1="358.60" x2="331.30" y2="361.80" stroke="#333" stroke-width="1.1"/>
<line x1="372.26" y1="358.60" x2="372.26" y2="361.80" stroke="#333" stroke-width="1.1"/>
<line x1="413.22" y1="358.60" x2="413.22" y2="361.80" stroke="#333" stroke-width="1.1"/>
<line x1="454.18" y1="358.60" x2="454.18" y2="361.80" stroke="#333" stroke-width="1.1"/>
<line x1="495.14" y1="358.60" x2="495.14" y2="361.80" stroke="#333" stroke-width="1.1"/>
<line x1="536.10" y1="358.60" x2="536.10" y2="361.80" stroke="#333" stroke-width="1.1"/>
<line x1="351.78" y1="358.60" x2="351.78" y2="360.60" stroke="#333" stroke-width="1.1"/>
<line x1="392.74" y1="358.60" x2="392.74" y2="360.60" stroke="#333" stroke-width="1.1"/>
<line x1="433.70" y1="358.60" x2="433.70" y2="360.60" stroke="#333" stroke-width="1.1"/>
<line x1="474.66" y1="358.60" x2="474.66" y2="360.60" stroke="#333" stroke-width="1.1"/>
<line x1="515.62" y1="358.60" x2="515.62" y2="360.60" stroke="#333" stroke-width="1.1"/>
<text x="326.90" y="363.00" font-size="13" text-anchor="end" fill="#222" stroke="#222" stroke-width="0.3" font-weight="normal">0</text>
<text x="326.90" y="312.33" font-size="13" text-anchor="end" fill="#222" stroke="#222" stroke-width="0.3" font-weight="normal">10</text>
<text x="326.90" y="261.67" font-size="13" text-anchor="end" fill="#222" stroke="#222" stroke-width="0.3" font-weight="normal">20</text>
<text x="326.90" y="211.00" font-size="13" text-anchor="end" fill="#222" stroke="#222" stroke-width="0.3" font-weight="normal">30</text>
<text x="331.30" y="373.60" font-size="13" text-anchor="middle" fill="#222" stroke="#222" stroke-width="0.3" font-weight="normal">0</text>
<text x="372.26" y="373.60" font-size="13" text-anchor="middle" fill="#222" stroke="#222" stroke-width="0.3" font-weight="normal">10</text>
<text x="413.22" y="373.60" font-size="13" text-anchor="middle" fill="#222" stroke="#222" stroke-width="0.3" font-weight="normal">20</text>
<text x="454.18" y="373.60" font-size="13" text-anchor="middle" fill="#222" stroke="#222" stroke-width="0.3" font-weight="normal">30</text>
<text x="495.14" y="373.60" font-size="13" text-anchor="middle" fill="#222" stroke="#222" stroke-width="0.3" font-weight="normal">40</text>
<text x="536.10" y="373.60" font-size="13" text-anchor="middle" fill="#222" stroke="#222" stroke-width="0.3" font-weight="normal">50</text>
<text x="411.30" y="388.00" font-size="13.1" text-anchor="start" fill="#222" stroke="#222" stroke-width="0.3" font-weight="normal">Z’ / Ohm</text>
<text x="308.7" y="312.8" font-size="13.5" fill="#222" stroke="#222" stroke-width="0.3" transform="rotate(-90 308.7 312.8)">Z’’ / Ohm</text>
<text x="336.80" y="226.30" font-size="21" text-anchor="start" fill="#222" stroke="#222" stroke-width="0.3" font-weight="normal">d</text>
<rect x="337.40" y="350.60" width="3.20" height="3.20" fill="#111"/>
<rect x="338.60" y="347.20" width="3.20" height="3.20" fill="#111"/>
<rect x="339.90" y="343.80" width="3.20" height="3.20" fill="#111"/>
<rect x="341.20" y="340.40" width="3.20" height="3.20" fill="#111"/>
<rect x="342.40" y="337.00" width="3.20" height="3.20" fill="#111"/>
<rect x="343.90" y="334.40" width="3.20" height="3.20" fill="#111"/>
<rect x="345.90" y="331.40" width="3.20" height="3.20" fill="#111"/>
<rect x="348.40" y="328.40" width="3.20" height="3.20" fill="#111"/>
<rect x="351.40" y="325.30" width="3.20" height="3.20" fill="#111"/>
<rect x="354.60" y="321.60" width="3.20" height="3.20" fill="#111"/>
<rect x="358.00" y="317.90" width="3.20" height="3.20" fill="#111"/>
<rect x="361.80" y="314.40" width="3.20" height="3.20" fill="#111"/>
<rect x="366.10" y="310.80" width="3.20" height="3.20" fill="#111"/>
<rect x="370.50" y="307.80" width="3.20" height="3.20" fill="#111"/>
<rect x="375.60" y="304.20" width="3.20" height="3.20" fill="#111"/>
<rect x="381.10" y="300.60" width="3.20" height="3.20" fill="#111"/>
<rect x="387.40" y="296.90" width="3.20" height="3.20" fill="#111"/>
<rect x="394.50" y="293.00" width="3.20" height="3.20" fill="#111"/>
<rect x="401.90" y="289.30" width="3.20" height="3.20" fill="#111"/>
<rect x="410.10" y="286.00" width="3.20" height="3.20" fill="#111"/>
<rect x="419.00" y="283.60" width="3.20" height="3.20" fill="#111"/>
<rect x="428.10" y="282.30" width="3.20" height="3.20" fill="#111"/>
<rect x="438.00" y="282.00" width="3.20" height="3.20" fill="#111"/>
<rect x="448.60" y="282.90" width="3.20" height="3.20" fill="#111"/>
<rect x="458.40" y="285.30" width="3.20" height="3.20" fill="#111"/>
<rect x="468.00" y="288.70" width="3.20" height="3.20" fill="#111"/>
<rect x="475.90" y="293.60" width="3.20" height="3.20" fill="#111"/>
<rect x="482.70" y="300.10" width="3.20" height="3.20" fill="#111"/>
<rect x="488.00" y="306.90" width="3.20" height="3.20" fill="#111"/>
<rect x="492.70" y="313.40" width="3.20" height="3.20" fill="#111"/>
<rect x="496.40" y="319.00" width="3.20" height="3.20" fill="#111"/>
<rect x="499.80" y="324.00" width="3.20" height="3.20" fill="#111"/>
<rect x="501.30" y="328.50" width="3.20" height="3.20" fill="#111"/>
<rect x="502.50" y="331.90" width="3.20" height="3.20" fill="#111"/>
<rect x="503.70" y="336.00" width="3.20" height="3.20" fill="#111"/>
<rect x="504.30" y="339.80" width="3.20" height="3.20" fill="#111"/>
<rect x="504.90" y="343.50" width="3.20" height="3.20" fill="#111"/>
<rect x="505.20" y="346.80" width="3.20" height="3.20" fill="#111"/>
<circle cx="337.80" cy="357.80" r="1.85" fill="#ff1a1a"/>
<circle cx="337.88" cy="356.00" r="1.85" fill="#ff1a1a"/>
<circle cx="338.13" cy="354.10" r="1.85" fill="#ff1a1a"/>
<circle cx="338.58" cy="352.11" r="1.85" fill="#ff1a1a"/>
<circle cx="339.27" cy="350.06" r="1.85" fill="#ff1a1a"/>
<circle cx="340.22" cy="347.95" r="1.85" fill="#ff1a1a"/>
<circle cx="341.46" cy="345.83" r="1.85" fill="#ff1a1a"/>
<circle cx="343.00" cy="343.74" r="1.85" fill="#ff1a1a"/>
<circle cx="344.86" cy="341.72" r="1.85" fill="#ff1a1a"/>
<circle cx="347.03" cy="339.82" r="1.85" fill="#ff1a1a"/>
<circle cx="349.52" cy="338.08" r="1.85" fill="#ff1a1a"/>
<circle cx="352.30" cy="336.56" r="1.85" fill="#ff1a1a"/>
<circle cx="355.33" cy="335.31" r="1.85" fill="#ff1a1a"/>
<circle cx="358.57" cy="334.36" r="1.85" fill="#ff1a1a"/>
<circle cx="361.97" cy="333.75" r="1.85" fill="#ff1a1a"/>
<circle cx="365.45" cy="333.50" r="1.85" fill="#ff1a1a"/>
<circle cx="368.94" cy="333.68" r="1.85" fill="#ff1a1a"/>
<circle cx="372.35" cy="334.33" r="1.85" fill="#ff1a1a"/>
<circle cx="375.57" cy="335.43" r="1.85" fill="#ff1a1a"/>
<circle cx="378.54" cy="336.92" r="1.85" fill="#ff1a1a"/>
<circle cx="381.18" cy="338.73" r="1.85" fill="#ff1a1a"/>
<circle cx="383.47" cy="340.76" r="1.85" fill="#ff1a1a"/>
<circle cx="385.39" cy="342.94" r="1.85" fill="#ff1a1a"/>
<circle cx="386.94" cy="345.19" r="1.85" fill="#ff1a1a"/>
<circle cx="388.17" cy="347.45" r="1.85" fill="#ff1a1a"/>
<circle cx="389.08" cy="349.66" r="1.85" fill="#ff1a1a"/>
<circle cx="389.74" cy="351.78" r="1.85" fill="#ff1a1a"/>
<circle cx="390.17" cy="353.80" r="1.85" fill="#ff1a1a"/>
<circle cx="390.41" cy="355.69" r="1.85" fill="#ff1a1a"/>
<circle cx="390.49" cy="357.45" r="1.85" fill="#ff1a1a"/>
<path d="M337.05,358.37 L341.35,358.37 L339.20,354.63 Z" fill="#1a1aff"/>
<path d="M337.85,355.37 L342.15,355.37 L340.00,351.63 Z" fill="#1a1aff"/>
<path d="M338.85,352.37 L343.15,352.37 L341.00,348.63 Z" fill="#1a1aff"/>
<path d="M340.05,349.37 L344.35,349.37 L342.20,345.63 Z" fill="#1a1aff"/>
<path d="M341.35,346.37 L345.65,346.37 L343.50,342.63 Z" fill="#1a1aff"/>
<path d="M343.05,342.87 L347.35,342.87 L345.20,339.13 Z" fill="#1a1aff"/>
<path d="M344.85,339.57 L349.15,339.57 L347.00,335.83 Z" fill="#1a1aff"/>
<path d="M347.35,336.47 L351.65,336.47 L349.50,332.73 Z" fill="#1a1aff"/>
<path d="M349.65,333.47 L353.95,333.47 L351.80,329.73 Z" fill="#1a1aff"/>
<path d="M352.35,330.47 L356.65,330.47 L354.50,326.73 Z" fill="#1a1aff"/>
<path d="M355.35,327.47 L359.65,327.47 L357.50,323.73 Z" fill="#1a1aff"/>
<path d="M358.85,324.47 L363.15,324.47 L361.00,320.73 Z" fill="#1a1aff"/>
<path d="M362.85,321.47 L367.15,321.47 L365.00,317.73 Z" fill="#1a1aff"/>
<path d="M367.85,318.97 L372.15,318.97 L370.00,315.23 Z" fill="#1a1aff"/>
<path d="M373.35,316.17 L377.65,316.17 L375.50,312.43 Z" fill="#1a1aff"/>
<path d="M378.65,313.77 L382.95,313.77 L380.80,310.03 Z" fill="#1a1aff"/>
<path d="M385.25,312.47 L389.55,312.47 L387.40,308.73 Z" fill="#1a1aff"/>
<path d="M391.75,312.17 L396.05,312.17 L393.90,308.43 Z" fill="#1a1aff"/>
<path d="M398.25,312.87 L402.55,312.87 L400.40,309.13 Z" fill="#1a1aff"/>
<path d="M404.75,314.87 L409.05,314.87 L406.90,311.13 Z" fill="#1a1aff"/>
<path d="M410.65,317.87 L414.95,317.87 L412.80,314.13 Z" fill="#1a1aff"/>
<path d="M415.65,321.27 L419.95,321.27 L417.80,317.53 Z" fill="#1a1aff"/>
<path d="M419.95,325.17 L424.25,325.17 L422.10,321.43 Z" fill="#1a1aff"/>
<path d="M423.35,329.87 L427.65,329.87 L425.50,326.13 Z" fill="#1a1aff"/>
<path d="M425.85,334.17 L430.15,334.17 L428.00,330.43 Z" fill="#1a1aff"/>
<path d="M427.45,337.97 L431.75,337.97 L429.60,334.23 Z" fill="#1a1aff"/>
<path d="M428.55,341.57 L432.85,341.57 L430.70,337.83 Z" fill="#1a1aff"/>
<path d="M429.55,345.07 L433.85,345.07 L431.70,341.33 Z" fill="#1a1aff"/>
<path d="M430.55,348.57 L434.85,348.57 L432.70,344.83 Z" fill="#1a1aff"/>
<path d="M431.35,351.67 L435.65,351.67 L433.50,347.93 Z" fill="#1a1aff"/>
<path d="M432.05,354.77 L436.35,354.77 L434.20,351.03 Z" fill="#1a1aff"/>
<path d="M432.35,356.87 L436.65,356.87 L434.50,353.13 Z" fill="#1a1aff"/>
<polyline points="339.9,356.5 340.4,353 341.2,349.8 342.4,346.6 343.9,343.4 345.7,340.2 347.9,336.9 350.3,333.8 352.3,331.4" fill="none" stroke="#1a1aff" stroke-width="3.9" stroke-linecap="round"/>
<path d="M333.50,355.25 L337.30,355.25 L335.40,358.55 Z" fill="#ff10ff"/>
<path d="M334.90,355.25 L338.70,355.25 L336.80,358.55 Z" fill="#ff10ff"/>
<path d="M336.30,355.25 L340.10,355.25 L338.20,358.55 Z" fill="#ff10ff"/>
<path d="M337.70,355.25 L341.50,355.25 L339.60,358.55 Z" fill="#ff10ff"/>
<path d="M339.10,355.25 L342.90,355.25 L341.00,358.55 Z" fill="#ff10ff"/>
<path d="M340.50,355.25 L344.30,355.25 L342.40,358.55 Z" fill="#ff10ff"/>
<path d="M341.70,355.25 L345.50,355.25 L343.60,358.55 Z" fill="#ff10ff"/>
<rect x="397.10" y="233.60" width="3.20" height="3.20" fill="#111"/>
<circle cx="398.70" cy="247.50" r="1.90" fill="#ff1a1a"/>
<path d="M396.75,261.30 L400.65,261.30 L398.70,257.90 Z" fill="#1a1aff"/>
<path d="M396.75,270.10 L400.65,270.10 L398.70,273.50 Z" fill="#ff10ff"/>
<text x="412.60" y="238.80" font-size="10" text-anchor="start" fill="#222" stroke="#222" stroke-width="0.3" font-weight="normal">NF</text>
<text x="412.60" y="251.20" font-size="10" text-anchor="start" fill="#ff3030" stroke="#ff3030" stroke-width="0.3" font-weight="normal">CoFeCr LDH</text>
<text x="412.60" y="263.10" font-size="10" text-anchor="start" fill="#3a3af0" stroke="#3a3af0" stroke-width="0.3" font-weight="normal">CoFe LDH</text>
<text x="412.60" y="275.20" font-size="10" text-anchor="start" fill="#ff30c0" stroke="#ff30c0" stroke-width="0.3" font-weight="normal">Pt/C</text>
<g fill="none" stroke="#5e92d8" stroke-width="1.35">
<line x1="472.7" y1="276.5" x2="479.3" y2="276.5"/>
<rect x="479.5" y="274.7" width="12.3" height="4.4" rx="1.5"/>
<line x1="491.9" y1="276.5" x2="498.5" y2="276.5"/>
<path d="M500.5,269 H498.5 V283 H510.1 M514.3,283 H522.1 V269 H520"/>
<rect x="502.1" y="266.7" width="17" height="4.5" rx="1.5"/>
<line x1="510.1" y1="280" x2="510.1" y2="285.8"/>
<line x1="514.3" y1="280" x2="514.3" y2="285.8"/>
<line x1="522.1" y1="276.5" x2="529.1" y2="276.5"/>
</g>
<text x="482.5" y="271.3" font-size="7.5" fill="#555" stroke="#555" stroke-width="0.3">R<tspan font-size="4.5" dy="2">s</tspan></text>
<text x="505.5" y="262.3" font-size="7.5" fill="#555" stroke="#555" stroke-width="0.3">R<tspan font-size="4.5" dy="2">ct</tspan></text>
<text x="505.5" y="294" font-size="7.5" fill="#555" stroke="#555" stroke-width="0.3">C<tspan font-size="4.5" dy="2">dl</tspan></text>
</svg>
</body></html>
